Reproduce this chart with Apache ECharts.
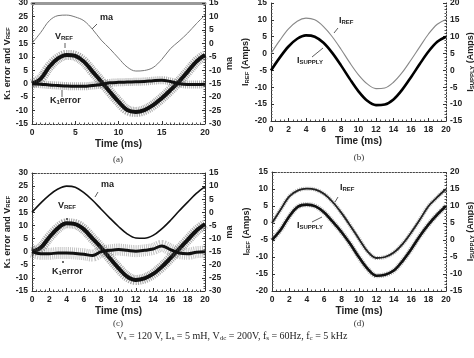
<!DOCTYPE html>
<html><head><meta charset="utf-8">
<script src="https://cdn.jsdelivr.net/npm/echarts@6/dist/echarts.min.js"></script>
<style>html,body{margin:0;padding:0;background:#fff}#c{width:474px;height:358px}</style>
</head><body><div id="c"></div>
<script>
// time axis (ms)
const time = [0,1,2,3,4,5,6,7,8,9,10,11,12,13,14,15,16,17,18,19,20];
// (a)
const aMa   = [0,4,8.4,10.3,10.5,9.8,8.4,5.2,1.2,-2,-5.5,-8.8,-10.3,-10.1,-9,-6,-2,0.8,3.8,7.3,10.5];
const aVref = [0,1.8,6.3,9.4,10.7,10.3,8.2,4.5,0.8,-3,-6.7,-9.8,-10.5,-9.8,-8,-5.4,-2.4,0.8,4.5,8.2,10.7];
const aK1   = [0,-0.2,-0.5,-0.7,-0.9,-1,-1,-0.7,-0.3,0.3,0.5,0.6,0.7,0.8,1.1,1.3,0.8,0,-0.3,-0.3,-0.2];
// (b)
const bIref = [0,3.9,7.3,9.6,10.5,10,8,5,1.3,-2.7,-6.3,-9,-10.4,-10.2,-8.5,-5.6,-1.9,2,5.8,8.7,10.1];
const bIsup = [0,3.8,7.1,9.4,10.4,10,8.2,5.2,1.5,-2.5,-6.2,-9,-10.3,-10.1,-8.6,-5.7,-2,1.9,5.6,8.5,10];
// (c)
const cMa   = [0,3.5,6.6,8.9,10,9.6,7.5,4.6,1.2,-2.2,-5.4,-8.2,-9.8,-9.9,-8.8,-6.3,-3.1,0.5,3.9,7.2,9.8];
const cVref = [0,1.5,5.5,9,10.8,10.5,8.5,5,1.5,-2.5,-6.3,-9.5,-10.8,-10.2,-8.5,-5.8,-2.5,1,4.5,8,10.5];
const cK1   = [0,-0.8,-0.8,-0.5,-0.5,-0.7,-1,-1.5,0,0.5,0.8,0.5,0.2,0.5,1,2.2,0.8,-0.5,-0.8,-0.2,0];
// (d)
const dIref = [0,4,7.8,9.6,10.1,9.8,8.5,6.1,2.9,-0.8,-4.7,-8.4,-10.3,-10,-8.7,-6.2,-2.8,1,5,7.6,10];
const dIsup = [0,3,7,9.8,10.4,9.9,8.1,5.3,2.3,-1.2,-5.1,-8.5,-10.5,-10.2,-9,-6.2,-2.7,1.2,4.6,7.5,10];

const pairs = v => time.map((t,i)=>[t,v[i]]);
const SANS = 'Liberation Sans, Arial, sans-serif';
const SERIF = 'Liberation Serif, Times New Roman, serif';
const axisLbl = {fontFamily:SANS, fontSize:8.5, fontWeight:'bold', color:'#222', margin:4};
const nameRich = {
  a:{fontFamily:SANS,fontSize:9,fontWeight:'bold',color:'#222',padding:[0,0,3,0]},
  s:{fontFamily:SANS,fontSize:6,fontWeight:'bold',color:'#222'}
};
function xAx(grid, interval, dotted){
  return {type:'value', gridIndex:grid, min:0, max:20, interval:interval, position:'bottom',
    name:'Time (ms)', nameLocation:'middle', nameGap:15,
    nameTextStyle:{fontFamily:SANS,fontSize:10,fontWeight:'bold',color:'#222'},
    axisLine:{onZero:false,lineStyle:{color:'#333',width:1,type:dotted?[1.5,1.5]:'solid'}},
    axisTick:{inside:true,length:3,lineStyle:{color:'#333'}},
    minorTick:{show:true,splitNumber:dotted?interval*2:4,length:1.5,lineStyle:{color:'#555'}},
    splitLine:{show:false}, axisLabel:axisLbl};
}
function topAx(grid, style){
  return {type:'value', gridIndex:grid, min:0, max:20, position:'top',
    axisLine:{show:true,onZero:false,lineStyle:style}, axisTick:{show:false}, axisLabel:{show:false}, splitLine:{show:false}};
}
function yAx(grid, pos, min, max, name, gap, dotted){
  return {type:'value', gridIndex:grid, position:pos, min:min, max:max, interval:5,
    name:name, nameLocation:'middle', nameGap:gap, nameRotate:90,
    nameTextStyle:{rich:nameRich},
    axisLine:{show:true,onZero:false,lineStyle:{color:'#333',width:1,type:dotted?[1.5,1.5]:'solid'}},
    axisTick:{show:true,inside:true,length:3,lineStyle:{color:'#333'}},
    minorTick:{show:true,splitNumber:5,length:1.5,lineStyle:{color:'#555'}},
    splitLine:{show:false}, axisLabel:axisLbl};
}
function line(xi, yi, data, color, width, extra){
  return Object.assign({type:'line', xAxisIndex:xi, yAxisIndex:yi, data:pairs(data), smooth:0.35,
    symbol:'none', silent:true, lineStyle:{color:color,width:width}}, extra||{});
}
function halo(xi, yi, data, color, width){
  return {type:'line', xAxisIndex:xi, yAxisIndex:yi, data:pairs(data), smooth:0.35,
    symbol:'none', silent:true, lineStyle:{color:color,width:width,type:[1,1],cap:'butt'}};
}

const chart = echarts.init(document.getElementById('c'), null, {renderer:'canvas'});
function txt(x,y,rich,align){
  return {type:'text', x:x, y:y, style:{text:rich, align:align||'left', verticalAlign:'middle',
    rich:{m:{fontFamily:SANS,fontSize:9,fontWeight:'bold',fill:'#222',padding:[0,0,3,0]},
          s:{fontFamily:SANS,fontSize:6,fontWeight:'bold',fill:'#222'}}}};
}
function ln(x1,y1,x2,y2){
  return {type:'line', shape:{x1:x1,y1:y1,x2:x2,y2:y2}, style:{stroke:'#333',lineWidth:0.8}};
}
function cap(x,y,s){
  return {type:'text', x:x, y:y, style:{text:s, align:'center', verticalAlign:'middle',
    font:'9px '+SERIF, fill:'#333'}};
}
const capRich = {
  r:{fontFamily:SERIF,fontSize:10,fill:'#222',padding:[0,0,3,0]},
  u:{fontFamily:SERIF,fontSize:7,fill:'#222'}
};

chart.setOption({
  backgroundColor:'#fff',
  animation:false,
  grid:[
    {left:32, top:3, width:173, height:121, outerBoundsMode:'none'},
    {left:271, top:3, width:175, height:118, outerBoundsMode:'none'},
    {left:32, top:173, width:173, height:118, outerBoundsMode:'none'},
    {left:272, top:172, width:174, height:119, outerBoundsMode:'none'}
  ],
  xAxis:[
    xAx(0,5,true), xAx(1,2,false), xAx(2,2,true), xAx(3,2,false),
    topAx(0,{color:'#999',width:3}), topAx(2,{color:'#444',width:1,type:[1.5,1.5]}),
    topAx(3,{color:'#444',width:1,type:[1.5,1.5]})
  ],
  yAxis:[
    yAx(0,'left',-15,30,'{a|K}{s|1}{a| error and V}{s|REF}',16),
    yAx(0,'right',-30,15,'{a|ma}',19),
    yAx(1,'left',-20,15,'{a|I}{s|REF}{a| (Amps)}',18),
    yAx(1,'right',-15,20,'{a|I}{s|SUPPLY}{a| (Amps)}',17,true),
    yAx(2,'left',-15,30,'{a|K}{s|1}{a| error and V}{s|REF}',16),
    yAx(2,'right',-30,15,'{a|ma}',19),
    yAx(3,'left',-20,15,'{a|I}{s|REF}{a| (Amps)}',18),
    yAx(3,'right',-15,20,'{a|I}{s|SUPPLY}{a| (Amps)}',17,true)
  ],
  series:[
    line(0,1,aMa,'#777',1),
    halo(0,0,aVref,'rgba(80,80,80,0.5)',10),
    line(0,0,aVref,'#111',4),
    halo(0,0,aK1,'rgba(80,80,80,0.45)',8),
    line(0,0,aK1,'#111',3),
    line(1,2,bIref,'#888',1.1),
    line(1,3,bIsup,'#000',2.6),
    line(2,5,cMa,'#111',1.6),
    halo(2,4,cVref,'rgba(80,80,80,0.5)',10),
    line(2,4,cVref,'#111',4),
    halo(2,4,cK1,'rgba(110,110,110,0.4)',12),
    line(2,4,cK1,'#111',3),
    halo(3,6,dIref,'rgba(120,120,120,0.6)',4),
    line(3,6,dIref,'#222',1.8),
    halo(3,7,dIsup,'rgba(120,120,120,0.6)',5),
    line(3,7,dIsup,'#111',2.6)
  ],
  graphic:[
    // (a)
    txt(100,19,'{m|ma}'), ln(97,24,92,29),
    txt(55,38,'{m|V}{s|REF}'), ln(65,43,65,48),
    txt(50,102,'{m|K}{s|1}{m|error}'), ln(62,97,62,90),
    // (b)
    txt(339,22,'{m|I}{s|REF}'), ln(338,28,334,33),
    txt(297,62,'{m|I}{s|SUPPLY}'), ln(312,57,323,48),
    // (c)
    txt(101,186,'{m|ma}'), ln(98,192,95,197),
    txt(58,207,'{m|V}{s|REF}'), {type:'circle',shape:{cx:67,cy:219,r:0.9},style:{fill:'#222'}},
    txt(52,273,'{m|K}{s|1}{m|error}'), {type:'circle',shape:{cx:63,cy:262,r:0.9},style:{fill:'#222'}},
    // (d)
    txt(340,189,'{m|I}{s|REF}'), ln(338,197,335,202),
    txt(297,227,'{m|I}{s|SUPPLY}'), ln(312,222,322,217),
    // panel captions
    cap(118,160,'(a)'), cap(359,158,'(b)'), cap(118,324,'(c)'), cap(359,324,'(d)'),
    {type:'text', x:232, y:338, style:{align:'center', verticalAlign:'middle',
      text:'{r|V}{u|s}{r| = 120 V, L}{u|s}{r| = 5 mH, V}{u|dc}{r| = 200V, f}{u|s}{r| = 60Hz, f}{u|c}{r| = 5 kHz}',
      rich:capRich}}
  ]
});
</script>
</body></html>
